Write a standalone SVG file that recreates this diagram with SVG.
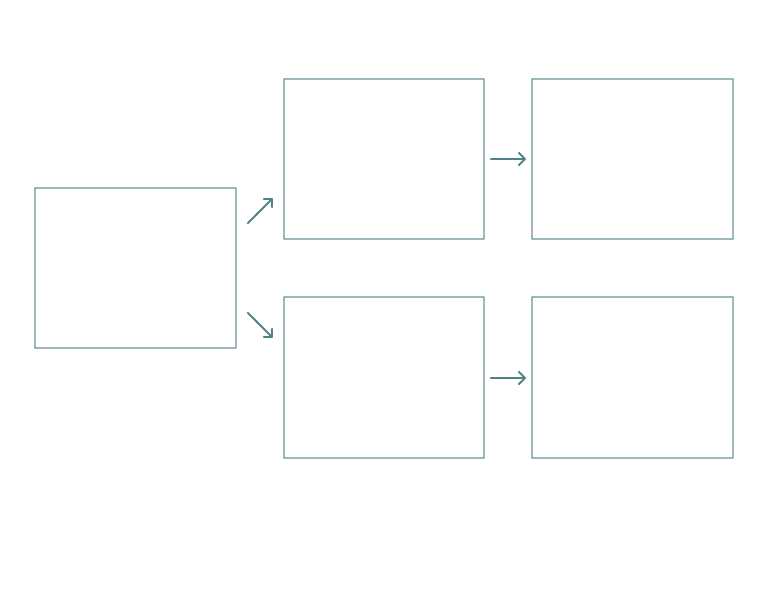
<svg xmlns="http://www.w3.org/2000/svg" width="768" height="594" viewBox="0 0 768 594">
<style>
.box{fill:#fff;stroke:#5a8a92;stroke-width:1.2}
.ar{fill:none;stroke:#4f8088;stroke-width:2;stroke-linecap:round;stroke-linejoin:round}
</style>
<rect width="768" height="594" fill="#fff"/>
<g id="n0"><rect class="box" x="35" y="188" width="201" height="160"/></g>
<g id="n1"><rect class="box" x="284" y="79" width="200" height="160"/></g>
<g id="n2"><rect class="box" x="532" y="79" width="201" height="160"/></g>
<g id="n3"><rect class="box" x="284" y="297" width="200" height="161"/></g>
<g id="n4"><rect class="box" x="532" y="297" width="201" height="161"/></g>
<g id="connectors">
<path class="ar" d="M248 223 L272 199 M264 199 L272 199 L272 207"/>
<path class="ar" d="M248 313 L272 337 M264 337 L272 337 L272 329"/>
<path class="ar" d="M491 159 L525 159 M519 153 L525 159 L519 165"/>
<path class="ar" d="M491 378 L525 378 M519 372 L525 378 L519 384"/>
</g>
</svg>
